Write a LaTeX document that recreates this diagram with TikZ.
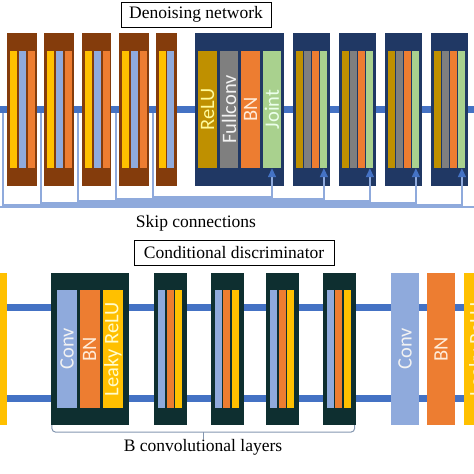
\documentclass[tikz,border=0pt]{standalone}
\usepackage{fontspec}
\setmainfont{Liberation Serif}
\newfontfamily\labelfont{Carlito}
\usetikzlibrary{arrows.meta}
\definecolor{brownblk}{HTML}{843C0C}
\definecolor{navyblk}{HTML}{203864}
\definecolor{tealblk}{HTML}{0E2F30}
\definecolor{yellowbar}{HTML}{FFC000}
\definecolor{bluebar}{HTML}{8FAADC}
\definecolor{orangebar}{HTML}{ED7D31}
\definecolor{goldbar}{HTML}{BF9000}
\definecolor{graybar}{HTML}{7F7F7F}
\definecolor{greenbar}{HTML}{A9D18E}
\definecolor{lineblue}{HTML}{4472C4}
\definecolor{bracegray}{HTML}{8497B0}
\begin{document}
\begin{tikzpicture}
[x=1pt,y=-1pt,
  bar/.style={shape=rectangle,inner sep=0pt,draw=none},%
  topblock/.style={bar,minimum width=#1,minimum height=153pt},%
  botblock/.style={bar,minimum width=#1,minimum height=152pt},%
  topstripe/.style={bar,minimum width=#1,minimum height=117pt},%
  botstripe/.style={bar,minimum width=#1,minimum height=118pt},%
  layername/.style={font=\labelfont\fontsize{20.5}{22}\selectfont,rotate=90,inner sep=0pt},%
  mainline/.style={line width=7pt,draw=lineblue},%
  skipline/.style={line width=1.5pt,draw=bluebar},%
  caption/.style={font=\fontsize{17.5}{20}\selectfont,inner sep=0pt},%
  titlebox/.style={caption,draw,line width=1pt,minimum height=25pt}]
\useasboundingbox (0,0) rectangle (474,474);
\clip (0,0) rectangle (474,474);
%% main signal lines
\coordinate (topw) at (0,109.5);
\coordinate (tope) at (474,109.5);
\coordinate (upw) at (0,307);
\coordinate (upe) at (474,307);
\coordinate (loww) at (0,398);
\coordinate (lowe) at (474,398);
\draw[mainline] (topw) -- (tope);
\draw[mainline] (upw) -- (upe);
\draw[mainline] (loww) -- (lowe);
%% denoising network: encoder blocks
\foreach \name/\x/\w in {e1/22/30, e2/59/30, e3/96.5/29, e4/134/30}
{
  \node (\name) at (\x,109.5) [topblock=\w,fill=brownblk] {};
  \node (\name y) at ([xshift=6.5pt]\name.west) [topstripe=7,fill=yellowbar] {};
  \node (\name b) at ([xshift=15.5pt]\name.west) [topstripe=7,fill=bluebar] {};
  \node (\name o) at ([xshift=24.5pt]\name.west) [topstripe=7,fill=orangebar] {};
}
\node (e5) at (166.5,109.5) [topblock=21,fill=brownblk] {};
\node (e5y) at ([xshift=6.5pt]e5.west) [topstripe=7,fill=yellowbar] {};
\node (e5b) at ([xshift=15pt]e5.west) [topstripe=7,fill=bluebar] {};
%% denoising network: decoder blocks
\node (d0) at (239.5,109.5) [topblock=89,fill=navyblk] {};
\node (relu) at (207.5,109.5) [topstripe=18.5,fill=goldbar] {};
\node (fullconv) at (229,109.5) [topstripe=18.5,fill=graybar] {};
\node (bn) at (250.5,109.5) [topstripe=18.5,fill=orangebar] {};
\node (joint) at (272,109.5) [topstripe=18.5,fill=greenbar] {};
\node at (relu) [layername,text=yellow!40] {ReLU};
\node at (fullconv) [layername,text=white!95!black] {Fullconv};
\node at (bn) [layername,text=orange!15] {BN};
\node at (joint) [layername,text=green!8] {Joint};
\foreach \name/\x in {d1/311.5, d2/357.5, d3/403.5, d4/449.5}
{
  \node (\name) at (\x,109.5) [topblock=37,fill=navyblk] {};
  \node (\name k) at ([xshift=6.5pt]\name.west) [topstripe=7,fill=goldbar] {};
  \node (\name a) at ([xshift=14.7pt]\name.west) [topstripe=7,fill=graybar] {};
  \node (\name o) at ([xshift=22.9pt]\name.west) [topstripe=7,fill=orangebar] {};
  \node (\name g) at ([xshift=31.1pt]\name.west) [topstripe=7,fill=greenbar] {};
}
%% skip connections
\foreach \tx/\target/\y in {153/joint/197, 116/d1g/199, 78/d2g/201, 41/d3g/203, 3/d4g/205}
{
  \coordinate (tap) at (\tx,113);
  \draw[skipline,-{Triangle[length=9pt,width=8pt,color=lineblue]}]
    (tap) -- (tap |- 0,\y) -| (\target.south);
}
\coordinate (skipw) at (0,207);
\coordinate (skipe) at (474,207);
\draw[skipline] (skipw) -- (skipe);
\node (denoise) at (196,14.5) [titlebox,minimum width=150pt] {Denoising network};
\node (skip) at (196,223.5) [caption] {Skip connections};
%% conditional discriminator
\node (inrelu) at (-7,349) [botblock=28,fill=yellowbar] {};
\node at ([xshift=-3pt]inrelu.center) [layername,text=yellow!20] {Leaky ReLU};
\node (c1) at (90,349) [botblock=78,fill=tealblk] {};
\node (conv) at (67,349) [botstripe=20,fill=bluebar] {};
\node (cbn) at (89.5,349) [botstripe=20,fill=orangebar] {};
\node (lrelu) at (113,349) [botstripe=20,fill=yellowbar] {};
\node at (conv) [layername,text=white!95!black] {Conv};
\node at (cbn) [layername,text=orange!15] {BN};
\node at (lrelu) [layername,text=yellow!20] {Leaky ReLU};
\foreach \name/\x in {c2/170.5, c3/227, c4/282.5, c5/339}
{
  \node (\name) at (\x,349) [botblock=33,fill=tealblk] {};
  \node (\name b) at ([xshift=8pt]\name.west) [botstripe=7,fill=bluebar] {};
  \node (\name o) at ([xshift=16.5pt]\name.west) [botstripe=7,fill=orangebar] {};
  \node (\name y) at ([xshift=25pt]\name.west) [botstripe=7,fill=yellowbar] {};
}
\node (outconv) at (405,349) [botblock=28,fill=bluebar] {};
\node (outbn) at (441,349) [botblock=28,fill=orangebar] {};
\node (outrelu) at (478,349) [botblock=28,fill=yellowbar] {};
\node at (outconv) [layername,text=white!95!black] {Conv};
\node at (outbn) [layername,text=orange!15] {BN};
\node at (outrelu) [layername,text=yellow!20] {Leaky ReLU};
\node (cond) at (234,252.5) [titlebox,minimum width=200pt] {Conditional discriminator};
%% bracket under the B layers
\node (blayers) at (203,447) [caption] {B convolutional layers};
\draw[bracegray,line width=1pt,rounded corners=4pt]
  ([xshift=1pt]c1.south west) -- ++(0,7) -| ([xshift=-1pt]c5.south east);
\coordinate (bmid) at (203,432);
\draw[bracegray,line width=1pt] (bmid) -- (blayers.north);
\end{tikzpicture}
\end{document}
